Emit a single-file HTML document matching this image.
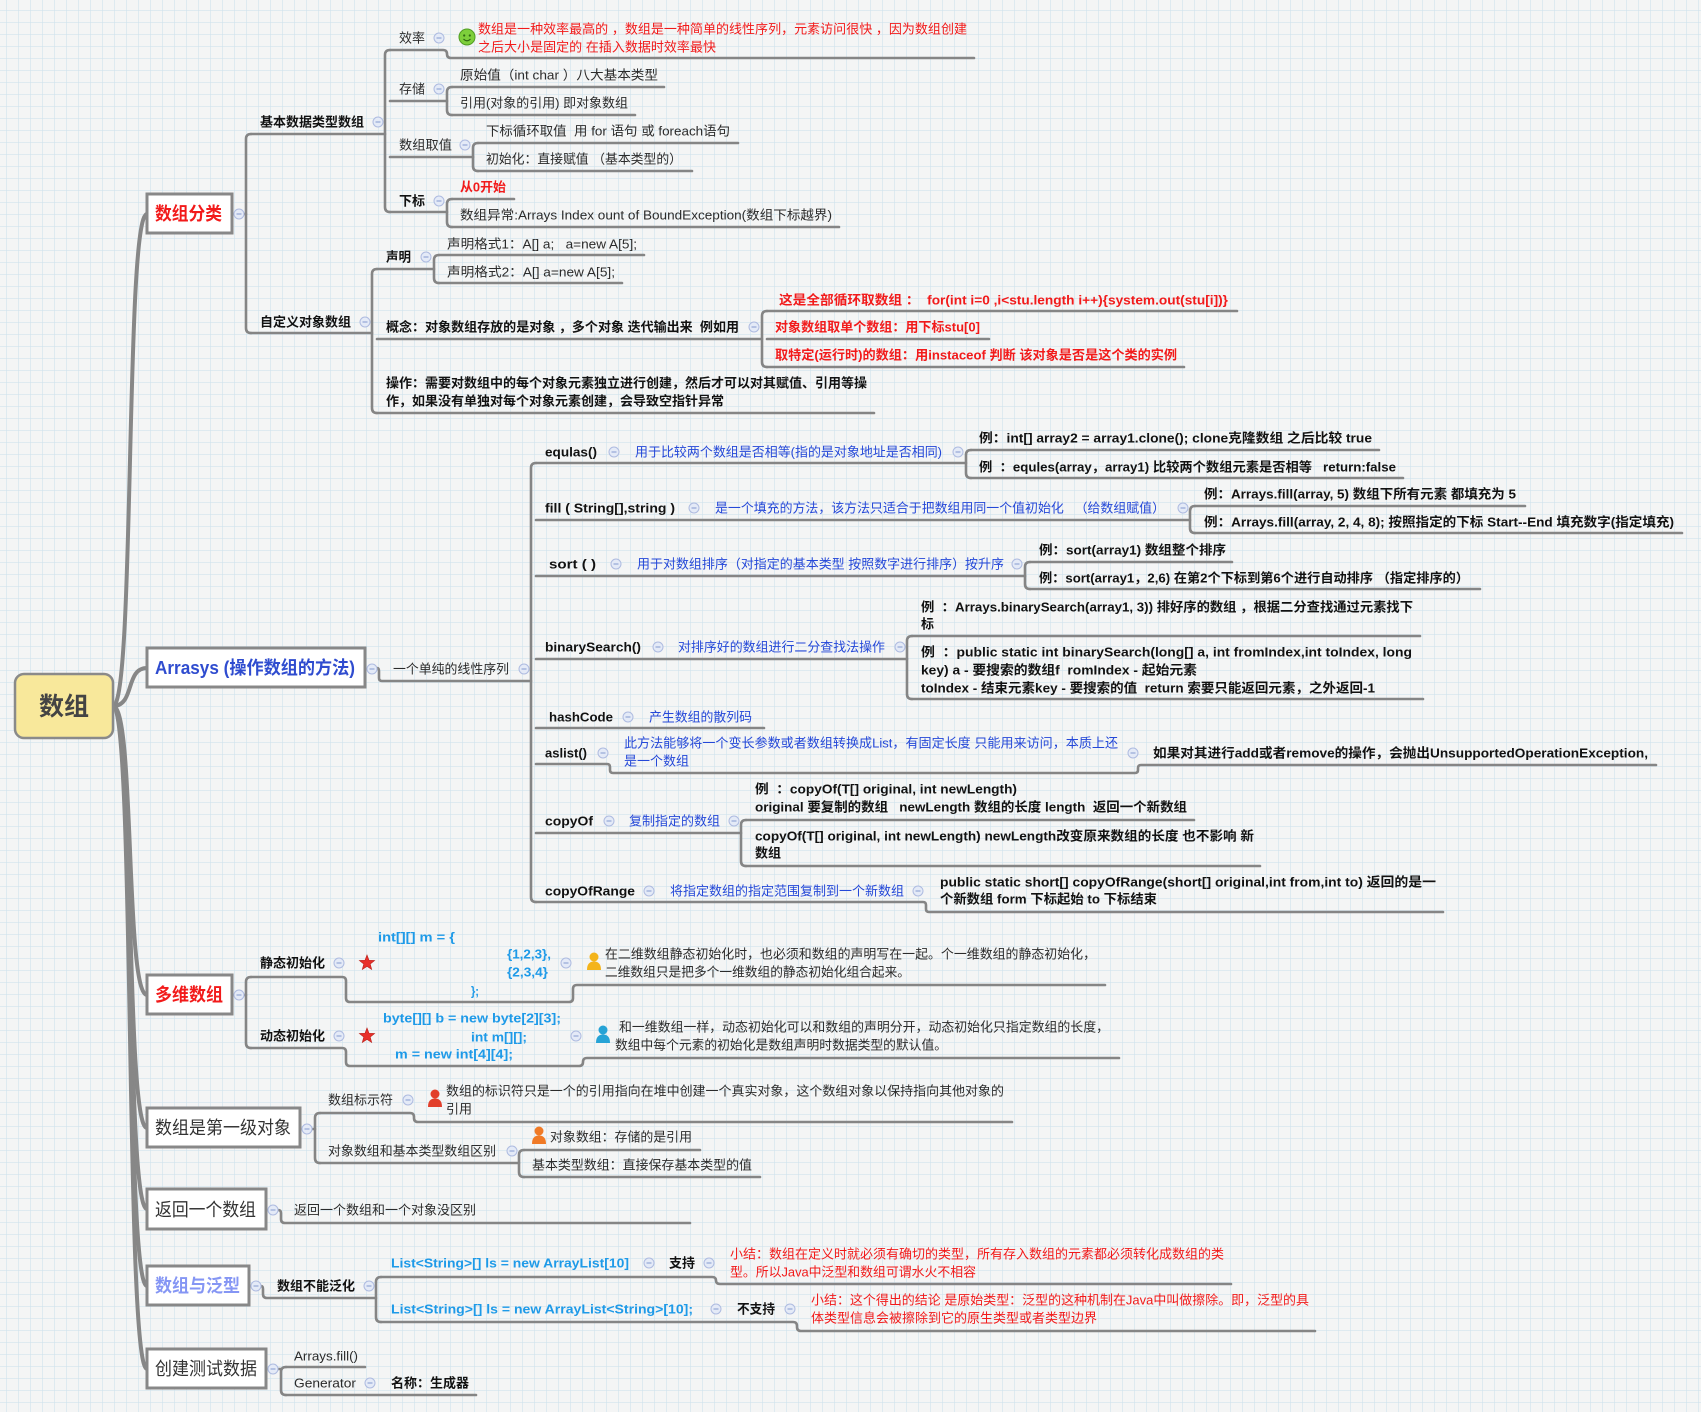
<!DOCTYPE html>
<html><head><meta charset="utf-8">
<style>
html,body{margin:0;padding:0;}
body{width:1701px;height:1412px;overflow:hidden;background-color:#f4f5f5;
background-image:
linear-gradient(to right, rgba(205,225,236,0.55) 1px, transparent 1px),
linear-gradient(to bottom, rgba(205,225,236,0.55) 1px, transparent 1px);
background-size:12px 12px;background-position:6px 10px;}
svg{position:absolute;left:0;top:0;}
text{font-family:"Liberation Sans","Noto Sans CJK SC","WenQuanYi Zen Hei",sans-serif;font-size:13px;white-space:pre;fill:#2b2b2b;}
.bd{font-weight:700;fill:#111;}
.rd{fill:#f21a1a;}
.bu{fill:#2448d8;}
.cy{fill:#1e9ae8;font-weight:700;}
.l{stroke:#858585;stroke-width:2.6;fill:none;stroke-linecap:round;stroke-linejoin:round;}
.tr{stroke:#878787;stroke-width:4;fill:none;stroke-linecap:round;}
.cc{fill:#e4eaf7;stroke:#aebbe0;stroke-width:1;}
.cm{stroke:#94a6d6;stroke-width:1.2;}
.box{fill:#fff;stroke:#888;stroke-width:3;}
</style></head>
<body>
<svg width="1701" height="1412" viewBox="0 0 1701 1412" xmlns="http://www.w3.org/2000/svg">
<!-- trunk -->
<path class="tr" d="M113,706 C135,706 125,214 147,214"/>
<path class="tr" d="M113,706 C135,706 125,668 147,668"/>
<path class="tr" d="M113,706 C135,706 125,995 147,995"/>
<path class="tr" d="M113,706 C135,706 125,1128 147,1128"/>
<path class="tr" d="M113,706 C135,706 125,1209 147,1209"/>
<path class="tr" d="M113,706 C135,706 125,1286 147,1286"/>
<path class="tr" d="M113,706 C135,706 125,1369 147,1369"/>

<!-- root -->
<rect x="15" y="674" width="98" height="64" rx="9" fill="#f8e89b" stroke="#8a8a8a" stroke-width="2.5"/>
<text x="64" y="715" text-anchor="middle" style="font-size:25px;font-weight:700;fill:#444">数组</text>

<!-- top-level boxes -->
<rect class="box" x="147" y="194" width="85" height="39"/>
<text x="155" y="220" textLength="67" lengthAdjust="spacingAndGlyphs" style="font-size:18px;font-weight:700;fill:#f21a1a">数组分类</text>
<rect class="box" x="147" y="648" width="218" height="39"/>
<text x="155" y="674" textLength="200" lengthAdjust="spacingAndGlyphs" style="font-size:18px;font-weight:700;fill:#2f4ccf">Arrasys (操作数组的方法)</text>
<rect class="box" x="147" y="975" width="85" height="39"/>
<text x="155" y="1001" textLength="68" lengthAdjust="spacingAndGlyphs" style="font-size:18px;font-weight:700;fill:#f21a1a">多维数组</text>
<rect class="box" x="147" y="1108" width="153" height="39"/>
<text x="155" y="1134" textLength="136" lengthAdjust="spacingAndGlyphs" style="font-size:18px;fill:#333">数组是第一级对象</text>
<rect class="box" x="147" y="1189" width="119" height="40"/>
<text x="155" y="1216" textLength="101" lengthAdjust="spacingAndGlyphs" style="font-size:18px;fill:#333">返回一个数组</text>
<rect class="box" x="147" y="1266" width="102" height="39"/>
<text x="155" y="1292" textLength="85" lengthAdjust="spacingAndGlyphs" style="font-size:18px;font-weight:700;fill:#8596f4">数组与泛型</text>
<rect class="box" x="147" y="1349" width="119" height="39"/>
<text x="155" y="1375" textLength="102" lengthAdjust="spacingAndGlyphs" style="font-size:18px;fill:#333">创建测试数据</text>

<!-- ===== Branch 1 ===== -->
<path class="l" d="M244,214 L246,214"/>
<path class="l" d="M251,134 Q246,134 246,139 L246,328 Q246,333 251,333"/>
<path class="l" d="M251,134 L385,134"/>
<path class="l" d="M251,333 L372,333"/>
<text class="bd" x="260" y="126.5" textLength="104" lengthAdjust="spacingAndGlyphs">基本数据类型数组</text>
<text class="bd" x="260" y="326.5" textLength="91" lengthAdjust="spacingAndGlyphs">自定义对象数组</text>

<path class="l" d="M390,50 Q385,50 385,55 L385,207 Q385,212 390,212"/>
<path class="l" d="M390,50 L443,50 Q447,50 447,54 Q447,58 451,58 L974,58"/>
<text x="399" y="42.5" textLength="26" lengthAdjust="spacingAndGlyphs">效率</text>
<g transform="translate(467,37)"><circle r="8" fill="#7dcf3b" stroke="#4f9d22" stroke-width="1"/><circle cx="-2.8" cy="-1.5" r="1.1" fill="#2f6a12"/><circle cx="2.8" cy="-1.5" r="1.1" fill="#2f6a12"/><path d="M-3.5,2 Q0,5.5 3.5,2" stroke="#2f6a12" stroke-width="1.2" fill="none"/></g>
<text class="rd" x="478" y="33.5" textLength="489" lengthAdjust="spacingAndGlyphs">数组是一种效率最高的 ，数组是一种简单的线性序列，元素访问很快 ，因为数组创建</text>
<text class="rd" x="478" y="51.5" textLength="238" lengthAdjust="spacingAndGlyphs">之后大小是固定的 在插入数据时效率最快</text>

<text x="399" y="93.5" textLength="26" lengthAdjust="spacingAndGlyphs">存储</text>
<path class="l" d="M390,101 L447,101"/>
<path class="l" d="M452,87 Q447,87 447,92 L447,110 Q447,115 452,115"/>
<path class="l" d="M452,87 L664,87"/>
<path class="l" d="M452,115 L635,115"/>
<text x="460" y="79.5" textLength="198" lengthAdjust="spacingAndGlyphs">原始值（int char ）八大基本类型</text>
<text x="460" y="107.5" textLength="168" lengthAdjust="spacingAndGlyphs">引用(对象的引用) 即对象数组</text>

<text x="399" y="149.5" textLength="53" lengthAdjust="spacingAndGlyphs">数组取值</text>
<path class="l" d="M390,157 L473,157"/>
<path class="l" d="M478,143 Q473,143 473,148 L473,166 Q473,171 478,171"/>
<path class="l" d="M478,143 L738,143"/>
<path class="l" d="M478,171 L692,171"/>
<text x="486" y="135.5" textLength="244" lengthAdjust="spacingAndGlyphs">下标循环取值  用 for 语句 或 foreach语句</text>
<text x="486" y="163.5" textLength="196" lengthAdjust="spacingAndGlyphs">初始化：直接赋值 （基本类型的）</text>

<text class="bd" x="399" y="205.5" textLength="26" lengthAdjust="spacingAndGlyphs">下标</text>
<path class="l" d="M390,212 L447,212"/>
<path class="l" d="M452,199 Q447,199 447,204 L447,222 Q447,227 452,227"/>
<path class="l" d="M452,199 L514,199"/>
<path class="l" d="M452,227 L839,227"/>
<text class="bd rd" x="460" y="191.5" textLength="46" lengthAdjust="spacingAndGlyphs">从0开始</text>
<text x="460" y="219.5" textLength="372" lengthAdjust="spacingAndGlyphs">数组异常:Arrays Index ount of BoundException(数组下标越界)</text>

<path class="l" d="M377,269 Q372,269 372,274 L372,408 Q372,413 377,413"/>
<text class="bd" x="386" y="261.5" textLength="25" lengthAdjust="spacingAndGlyphs">声明</text>
<path class="l" d="M377,269 L434,269"/>
<path class="l" d="M439,255 Q434,255 434,260 L434,278 Q434,283 439,283"/>
<path class="l" d="M439,255 L644,255"/>
<path class="l" d="M439,283 L622,283"/>
<text x="447" y="248.5" textLength="190" lengthAdjust="spacingAndGlyphs">声明格式1：A[] a;   a=new A[5];</text>
<text x="447" y="276.5" textLength="168" lengthAdjust="spacingAndGlyphs">声明格式2：A[] a=new A[5];</text>

<text class="bd" x="386" y="331.5" textLength="353" lengthAdjust="spacingAndGlyphs">概念：对象数组存放的是对象 ，多个对象 迭代输出来  例如用</text>
<path class="l" d="M377,339 L762,339"/>
<path class="l" d="M767,311 Q762,311 762,316 L762,362 Q762,367 767,367"/>
<path class="l" d="M767,311 L1237,311"/>
<path class="l" d="M767,339 L989,339"/>
<path class="l" d="M767,367 L1184,367"/>
<text class="bd rd" x="779" y="304.5" textLength="449" lengthAdjust="spacingAndGlyphs">这是全部循环取数组 ：  for(int i=0 ,i&lt;stu.length i++){system.out(stu[i])}</text>
<text class="bd rd" x="775" y="331.5" textLength="205" lengthAdjust="spacingAndGlyphs">对象数组取单个数组：用下标stu[0]</text>
<text class="bd rd" x="775" y="359.5" textLength="402" lengthAdjust="spacingAndGlyphs">取特定(运行时)的数组：用instaceof 判断 该对象是否是这个类的实例</text>

<text class="bd" x="386" y="387.5" textLength="481" lengthAdjust="spacingAndGlyphs">操作：需要对数组中的每个对象元素独立进行创建，然后才可以对其赋值、引用等操</text>
<text class="bd" x="386" y="405.5" textLength="338" lengthAdjust="spacingAndGlyphs">作，如果没有单独对每个对象元素创建，会导致空指针异常</text>
<path class="l" d="M377,413 L874,413"/>

<!-- ===== Branch 2 ===== -->
<path class="l" d="M377,668 Q379,668 379,671 L379,678 Q379,681 382,681 L531,681"/>
<text x="393" y="673.5" textLength="116" lengthAdjust="spacingAndGlyphs">一个单纯的线性序列</text>
<path class="l" d="M536,463 Q531,463 531,468 L531,897 Q531,902 536,902"/>

<text class="bd" x="545" y="456.5" textLength="52" lengthAdjust="spacingAndGlyphs">equlas()</text>
<text class="bu" x="635" y="456.5" textLength="307" lengthAdjust="spacingAndGlyphs">用于比较两个数组是否相等(指的是对象地址是否相同)</text>
<path class="l" d="M536,463 L966,463"/>
<path class="l" d="M971,450 Q966,450 966,455 L966,473 Q966,478 971,478"/>
<path class="l" d="M971,450 L1379,450"/>
<path class="l" d="M971,478 L1403,478"/>
<text class="bd" x="979" y="442.5" textLength="393" lengthAdjust="spacingAndGlyphs">例：int[] array2 = array1.clone(); clone克隆数组 之后比较 true</text>
<text class="bd" x="979" y="471.5" textLength="417" lengthAdjust="spacingAndGlyphs">例  ：equles(array，array1) 比较两个数组元素是否相等   return:false</text>

<text class="bd" x="545" y="512.5" textLength="130" lengthAdjust="spacingAndGlyphs">fill ( String[],string )</text>
<text class="bu" x="715" y="512.5" textLength="450" lengthAdjust="spacingAndGlyphs">是一个填充的方法，该方法只适合于把数组用同一个值初始化   （给数组赋值）</text>
<path class="l" d="M536,520 L1190,520"/>
<path class="l" d="M1195,506 Q1190,506 1190,511 L1190,528 Q1190,533 1195,533"/>
<path class="l" d="M1195,506 L1525,506"/>
<path class="l" d="M1195,533 L1682,533"/>
<text class="bd" x="1204" y="498.5" textLength="312" lengthAdjust="spacingAndGlyphs">例：Arrays.fill(array, 5) 数组下所有元素 都填充为 5</text>
<text class="bd" x="1204" y="526.5" textLength="470" lengthAdjust="spacingAndGlyphs">例：Arrays.fill(array, 2, 4, 8); 按照指定的下标 Start--End 填充数字(指定填充)</text>

<text class="bd" x="549" y="568.5" textLength="47" lengthAdjust="spacingAndGlyphs">sort ( )</text>
<text class="bu" x="637" y="568.5" textLength="367" lengthAdjust="spacingAndGlyphs">用于对数组排序（对指定的基本类型 按照数字进行排序）按升序</text>
<path class="l" d="M536,576 L1025,576"/>
<path class="l" d="M1030,562 Q1025,562 1025,567 L1025,584 Q1025,589 1030,589"/>
<path class="l" d="M1030,562 L1232,562"/>
<path class="l" d="M1030,589 L1480,589"/>
<text class="bd" x="1039" y="554.5" textLength="187" lengthAdjust="spacingAndGlyphs">例：sort(array1) 数组整个排序</text>
<text class="bd" x="1039" y="582.5" textLength="430" lengthAdjust="spacingAndGlyphs">例：sort(array1，2,6) 在第2个下标到第6个进行自动排序 （指定排序的）</text>

<text class="bd" x="545" y="651.5" textLength="96" lengthAdjust="spacingAndGlyphs">binarySearch()</text>
<text class="bu" x="678" y="651.5" textLength="207" lengthAdjust="spacingAndGlyphs">对排序好的数组进行二分查找法操作</text>
<path class="l" d="M536,659 L907,659"/>
<path class="l" d="M912,636 Q907,636 907,641 L907,694 Q907,699 912,699"/>
<path class="l" d="M912,636 L1420,636"/>
<path class="l" d="M912,699 L1423,699"/>
<text class="bd" x="921" y="611.5" textLength="492" lengthAdjust="spacingAndGlyphs">例  ：Arrays.binarySearch(array1, 3)) 排好序的数组 ，根据二分查找通过元素找下</text>
<text class="bd" x="921" y="628.5" textLength="13" lengthAdjust="spacingAndGlyphs">标</text>
<text class="bd" x="921" y="656.5" textLength="491" lengthAdjust="spacingAndGlyphs">例  ：public static int binarySearch(long[] a, int fromIndex,int toIndex, long</text>
<text class="bd" x="921" y="674.5" textLength="276" lengthAdjust="spacingAndGlyphs">key) a - 要搜索的数组f  romIndex - 起始元素</text>
<text class="bd" x="921" y="692.5" textLength="454" lengthAdjust="spacingAndGlyphs">toIndex - 结束元素key - 要搜索的值  return 索要只能返回元素，之外返回-1</text>

<text class="bd" x="549" y="721.5" textLength="64" lengthAdjust="spacingAndGlyphs">hashCode</text>
<text class="bu" x="649" y="721.5" textLength="103" lengthAdjust="spacingAndGlyphs">产生数组的散列码</text>
<path class="l" d="M536,728 L764,728"/>

<text class="bd" x="545" y="757.5" textLength="42" lengthAdjust="spacingAndGlyphs">aslist()</text>
<path class="l" d="M536,764 L607,764 Q610,764 610,767 L610,770 Q610,773 613,773 L1135,773 Q1138,773 1138,770 L1138,768 Q1138,765 1141,765 L1656,765"/>
<text class="bu" x="624" y="747.5" textLength="494" lengthAdjust="spacingAndGlyphs">此方法能够将一个变长参数或者数组转换成List，有固定长度 只能用来访问，本质上还</text>
<text class="bu" x="624" y="765.5" textLength="65" lengthAdjust="spacingAndGlyphs">是一个数组</text>
<text class="bd" x="1153" y="757.5" textLength="495" lengthAdjust="spacingAndGlyphs">如果对其进行add或者remove的操作，会抛出UnsupportedOperationException,</text>

<text class="bd" x="545" y="825.5" textLength="48" lengthAdjust="spacingAndGlyphs">copyOf</text>
<text class="bu" x="629" y="825.5" textLength="91" lengthAdjust="spacingAndGlyphs">复制指定的数组</text>
<path class="l" d="M536,833 L741,833"/>
<path class="l" d="M746,820 Q741,820 741,825 L741,861 Q741,866 746,866"/>
<path class="l" d="M746,820 L1194,820"/>
<path class="l" d="M746,866 L1260,866"/>
<text class="bd" x="755" y="793.5" textLength="262" lengthAdjust="spacingAndGlyphs">例  ：copyOf(T[] original, int newLength)</text>
<text class="bd" x="755" y="811.5" textLength="432" lengthAdjust="spacingAndGlyphs">original 要复制的数组   newLength 数组的长度 length  返回一个新数组</text>
<text class="bd" x="755" y="840.5" textLength="499" lengthAdjust="spacingAndGlyphs">copyOf(T[] original, int newLength) newLength改变原来数组的长度 也不影响 新</text>
<text class="bd" x="755" y="857.5" textLength="26" lengthAdjust="spacingAndGlyphs">数组</text>

<text class="bd" x="545" y="895.5" textLength="90" lengthAdjust="spacingAndGlyphs">copyOfRange</text>
<text class="bu" x="670" y="895.5" textLength="234" lengthAdjust="spacingAndGlyphs">将指定数组的指定范围复制到一个新数组</text>
<path class="l" d="M536,902 L923,902 Q926,902 926,905 L926,909 Q926,912 929,912 L1443,912"/>
<text class="bd" x="940" y="886.5" textLength="496" lengthAdjust="spacingAndGlyphs">public static short[] copyOfRange(short[] original,int from,int to) 返回的是一</text>
<text class="bd" x="940" y="903.5" textLength="217" lengthAdjust="spacingAndGlyphs">个新数组 form 下标起始 to 下标结束</text>

<!-- ===== Branch 3 ===== -->
<path class="l" d="M244,995 L246,995"/>
<path class="l" d="M251,977 Q246,977 246,982 L246,1043 Q246,1048 251,1048"/>
<text class="bd" x="260" y="967.5" textLength="65" lengthAdjust="spacingAndGlyphs">静态初始化</text>
<g transform="translate(367,963)"><polygon points="0,-8 2,-2.75 7.61,-2.47 3.23,1.05 4.7,6.47 0,3.4 -4.7,6.47 -3.23,1.05 -7.61,-2.47 -2,-2.75" fill="#e8302a" stroke="#b81e18" stroke-width="0.6"/></g>
<path class="l" d="M251,977 L342,977 Q346,977 346,981 L346,998 Q346,1002 350,1002 L569,1002 Q573,1002 573,998 L573,989 Q573,985 577,985 L1105,985"/>
<text class="cy" x="378" y="941.5" textLength="77" lengthAdjust="spacingAndGlyphs">int[][] m = {</text>
<text class="cy" x="507" y="958.5" textLength="44" lengthAdjust="spacingAndGlyphs">{1,2,3},</text>
<text class="cy" x="507" y="976.5" textLength="41" lengthAdjust="spacingAndGlyphs">{2,3,4}</text>
<text class="cy" x="471" y="995.5" textLength="8" lengthAdjust="spacingAndGlyphs">};</text>
<g fill="#f4b41a"><circle cx="594" cy="957" r="4.5"/><path d="M587,970 Q587,961.5 594,961.5 Q601,961.5 601,970 Z"/></g>
<text x="605" y="958.5" textLength="491" lengthAdjust="spacingAndGlyphs">在二维数组静态初始化时，也必须和数组的声明写在一起。个一维数组的静态初始化，</text>
<text x="605" y="976.5" textLength="305" lengthAdjust="spacingAndGlyphs">二维数组只是把多个一维数组的静态初始化组合起来。</text>

<text class="bd" x="260" y="1040.5" textLength="65" lengthAdjust="spacingAndGlyphs">动态初始化</text>
<g transform="translate(367,1036)"><polygon points="0,-8 2,-2.75 7.61,-2.47 3.23,1.05 4.7,6.47 0,3.4 -4.7,6.47 -3.23,1.05 -7.61,-2.47 -2,-2.75" fill="#e8302a" stroke="#b81e18" stroke-width="0.6"/></g>
<path class="l" d="M251,1048 L342,1048 Q346,1048 346,1052 L346,1062 Q346,1066 350,1066 L579,1066 Q583,1066 583,1062 Q583,1058 587,1058 L1119,1058"/>
<text class="cy" x="383" y="1022.5" textLength="178" lengthAdjust="spacingAndGlyphs">byte[][] b = new byte[2][3];</text>
<text class="cy" x="471" y="1041.5" textLength="56" lengthAdjust="spacingAndGlyphs">int m[][];</text>
<text class="cy" x="395" y="1058.5" textLength="118" lengthAdjust="spacingAndGlyphs">m = new int[4][4];</text>
<g fill="#26a3d6"><circle cx="603" cy="1030" r="4.5"/><path d="M596,1043 Q596,1034.5 603,1034.5 Q610,1034.5 610,1043 Z"/></g>
<text x="619" y="1031.5" textLength="490" lengthAdjust="spacingAndGlyphs">和一维数组一样，动态初始化可以和数组的声明分开，动态初始化只指定数组的长度，</text>
<text x="615" y="1049.5" textLength="332" lengthAdjust="spacingAndGlyphs">数组中每个元素的初始化是数组声明时数据类型的默认值。</text>

<!-- ===== Branch 4 ===== -->
<path class="l" d="M312,1129 L315,1129"/>
<path class="l" d="M320,1113 Q315,1113 315,1118 L315,1158 Q315,1163 320,1163"/>
<text x="328" y="1104.5" textLength="65" lengthAdjust="spacingAndGlyphs">数组标示符</text>
<path class="l" d="M320,1113 L410,1113 Q414,1113 414,1117 L414,1118 Q414,1122 418,1122 L1012,1122"/>
<g fill="#e23f2b"><circle cx="435" cy="1094" r="4.5"/><path d="M428,1107 Q428,1098.5 435,1098.5 Q442,1098.5 442,1107 Z"/></g>
<text x="446" y="1095.5" textLength="558" lengthAdjust="spacingAndGlyphs">数组的标识符只是一个的引用指向在堆中创建一个真实对象，这个数组对象以保持指向其他对象的</text>
<text x="446" y="1113.5" textLength="26" lengthAdjust="spacingAndGlyphs">引用</text>

<text x="328" y="1155.5" textLength="168" lengthAdjust="spacingAndGlyphs">对象数组和基本类型数组区别</text>
<path class="l" d="M320,1163 L519,1163"/>
<path class="l" d="M524,1150 Q519,1150 519,1155 L519,1172 Q519,1177 524,1177"/>
<path class="l" d="M524,1150 L700,1150"/>
<path class="l" d="M524,1177 L760,1177"/>
<g fill="#f07a26"><circle cx="539" cy="1131" r="4.5"/><path d="M532,1144 Q532,1135.5 539,1135.5 Q546,1135.5 546,1144 Z"/></g>
<text x="550" y="1141.5" textLength="142" lengthAdjust="spacingAndGlyphs">对象数组：存储的是引用</text>
<text x="532" y="1169.5" textLength="220" lengthAdjust="spacingAndGlyphs">基本类型数组：直接保存基本类型的值</text>

<!-- ===== Branch 5 ===== -->
<path class="l" d="M278,1210 Q281,1210 281,1213 L281,1219 Q281,1223 285,1223 L690,1223"/>
<text x="294" y="1214.5" textLength="182" lengthAdjust="spacingAndGlyphs">返回一个数组和一个对象没区别</text>

<!-- ===== Branch 6 ===== -->
<path class="l" d="M261,1286 Q263,1286 263,1289 L263,1294 Q263,1298 267,1298 L376,1298"/>
<text class="bd" x="277" y="1290.5" textLength="78" lengthAdjust="spacingAndGlyphs">数组不能泛化</text>
<path class="l" d="M381,1277 Q376,1277 376,1282 L376,1317 Q376,1322 381,1322"/>
<text class="cy" x="391" y="1267.5" textLength="238" lengthAdjust="spacingAndGlyphs">List&lt;String&gt;[] ls = new ArrayList[10]</text>
<text class="bd" x="669" y="1267.5" textLength="26" lengthAdjust="spacingAndGlyphs">支持</text>
<path class="l" d="M381,1277 L712,1277 Q716,1277 716,1280.5 Q716,1284 720,1284 L1231,1284"/>
<text class="rd" x="730" y="1258.5" textLength="494" lengthAdjust="spacingAndGlyphs">小结：数组在定义时就必须有确切的类型，所有存入数组的元素都必须转化成数组的类</text>
<text class="rd" x="730" y="1276.5" textLength="246" lengthAdjust="spacingAndGlyphs">型。所以Java中泛型和数组可谓水火不相容</text>
<text class="cy" x="391" y="1313.5" textLength="302" lengthAdjust="spacingAndGlyphs">List&lt;String&gt;[] ls = new ArrayList&lt;String&gt;[10];</text>
<text class="bd" x="737" y="1313.5" textLength="38" lengthAdjust="spacingAndGlyphs">不支持</text>
<path class="l" d="M381,1322 L793,1322 Q797,1322 797,1326 L797,1327 Q797,1331 801,1331 L1315,1331"/>
<text class="rd" x="811" y="1304.5" textLength="498" lengthAdjust="spacingAndGlyphs">小结：这个得出的结论 是原始类型：泛型的这种机制在Java中叫做擦除。即，泛型的具</text>
<text class="rd" x="811" y="1322.5" textLength="286" lengthAdjust="spacingAndGlyphs">体类型信息会被擦除到它的原生类型或者类型边界</text>

<!-- ===== Branch 7 ===== -->
<path class="l" d="M278,1369 L281,1369"/>
<path class="l" d="M286,1367 Q281,1367 281,1372 L281,1390 Q281,1395 286,1395"/>
<path class="l" d="M286,1367 L365,1367"/>
<path class="l" d="M286,1395 L476,1395"/>
<text x="294" y="1360.5" textLength="64" lengthAdjust="spacingAndGlyphs">Arrays.fill()</text>
<text x="294" y="1387.5" textLength="62" lengthAdjust="spacingAndGlyphs">Generator</text>
<text class="bd" x="391" y="1387.5" textLength="78" lengthAdjust="spacingAndGlyphs">名称：生成器</text>

<!-- collapse circles -->
<g>
<circle class="cc" cx="239" cy="214" r="5"/><path class="cm" d="M236.5,214h5"/>
<circle class="cc" cx="378" cy="122" r="5"/><path class="cm" d="M375.5,122h5"/>
<circle class="cc" cx="365" cy="322" r="5"/><path class="cm" d="M362.5,322h5"/>
<circle class="cc" cx="439" cy="38" r="5"/><path class="cm" d="M436.5,38h5"/>
<circle class="cc" cx="439" cy="89" r="5"/><path class="cm" d="M436.5,89h5"/>
<circle class="cc" cx="465" cy="145" r="5"/><path class="cm" d="M462.5,145h5"/>
<circle class="cc" cx="439" cy="201" r="5"/><path class="cm" d="M436.5,201h5"/>
<circle class="cc" cx="426" cy="257" r="5"/><path class="cm" d="M423.5,257h5"/>
<circle class="cc" cx="754" cy="327" r="5"/><path class="cm" d="M751.5,327h5"/>
<circle class="cc" cx="372" cy="669" r="5"/><path class="cm" d="M369.5,669h5"/>
<circle class="cc" cx="524" cy="669" r="5"/><path class="cm" d="M521.5,669h5"/>
<circle class="cc" cx="614" cy="452" r="5"/><path class="cm" d="M611.5,452h5"/>
<circle class="cc" cx="958" cy="452" r="5"/><path class="cm" d="M955.5,452h5"/>
<circle class="cc" cx="694" cy="508" r="5"/><path class="cm" d="M691.5,508h5"/>
<circle class="cc" cx="1183" cy="508" r="5"/><path class="cm" d="M1180.5,508h5"/>
<circle class="cc" cx="616" cy="564" r="5"/><path class="cm" d="M613.5,564h5"/>
<circle class="cc" cx="1017" cy="564" r="5"/><path class="cm" d="M1014.5,564h5"/>
<circle class="cc" cx="658" cy="647" r="5"/><path class="cm" d="M655.5,647h5"/>
<circle class="cc" cx="900" cy="647" r="5"/><path class="cm" d="M897.5,647h5"/>
<circle class="cc" cx="628" cy="717" r="5"/><path class="cm" d="M625.5,717h5"/>
<circle class="cc" cx="603" cy="753" r="5"/><path class="cm" d="M600.5,753h5"/>
<circle class="cc" cx="1133" cy="753" r="5"/><path class="cm" d="M1130.5,753h5"/>
<circle class="cc" cx="609" cy="821" r="5"/><path class="cm" d="M606.5,821h5"/>
<circle class="cc" cx="734" cy="821" r="5"/><path class="cm" d="M731.5,821h5"/>
<circle class="cc" cx="649" cy="891" r="5"/><path class="cm" d="M646.5,891h5"/>
<circle class="cc" cx="918" cy="891" r="5"/><path class="cm" d="M915.5,891h5"/>
<circle class="cc" cx="239" cy="995" r="5"/><path class="cm" d="M236.5,995h5"/>
<circle class="cc" cx="339" cy="963" r="5"/><path class="cm" d="M336.5,963h5"/>
<circle class="cc" cx="566" cy="963" r="5"/><path class="cm" d="M563.5,963h5"/>
<circle class="cc" cx="339" cy="1036" r="5"/><path class="cm" d="M336.5,1036h5"/>
<circle class="cc" cx="576" cy="1036" r="5"/><path class="cm" d="M573.5,1036h5"/>
<circle class="cc" cx="307" cy="1129" r="5"/><path class="cm" d="M304.5,1129h5"/>
<circle class="cc" cx="408" cy="1100" r="5"/><path class="cm" d="M405.5,1100h5"/>
<circle class="cc" cx="512" cy="1151" r="5"/><path class="cm" d="M509.5,1151h5"/>
<circle class="cc" cx="273" cy="1210" r="5"/><path class="cm" d="M270.5,1210h5"/>
<circle class="cc" cx="256" cy="1286" r="5"/><path class="cm" d="M253.5,1286h5"/>
<circle class="cc" cx="369" cy="1286" r="5"/><path class="cm" d="M366.5,1286h5"/>
<circle class="cc" cx="649" cy="1263" r="5"/><path class="cm" d="M646.5,1263h5"/>
<circle class="cc" cx="709" cy="1263" r="5"/><path class="cm" d="M706.5,1263h5"/>
<circle class="cc" cx="716" cy="1309" r="5"/><path class="cm" d="M713.5,1309h5"/>
<circle class="cc" cx="790" cy="1309" r="5"/><path class="cm" d="M787.5,1309h5"/>
<circle class="cc" cx="273" cy="1369" r="5"/><path class="cm" d="M270.5,1369h5"/>
<circle class="cc" cx="370" cy="1383" r="5"/><path class="cm" d="M367.5,1383h5"/>
</g>
</svg>
</body></html>
